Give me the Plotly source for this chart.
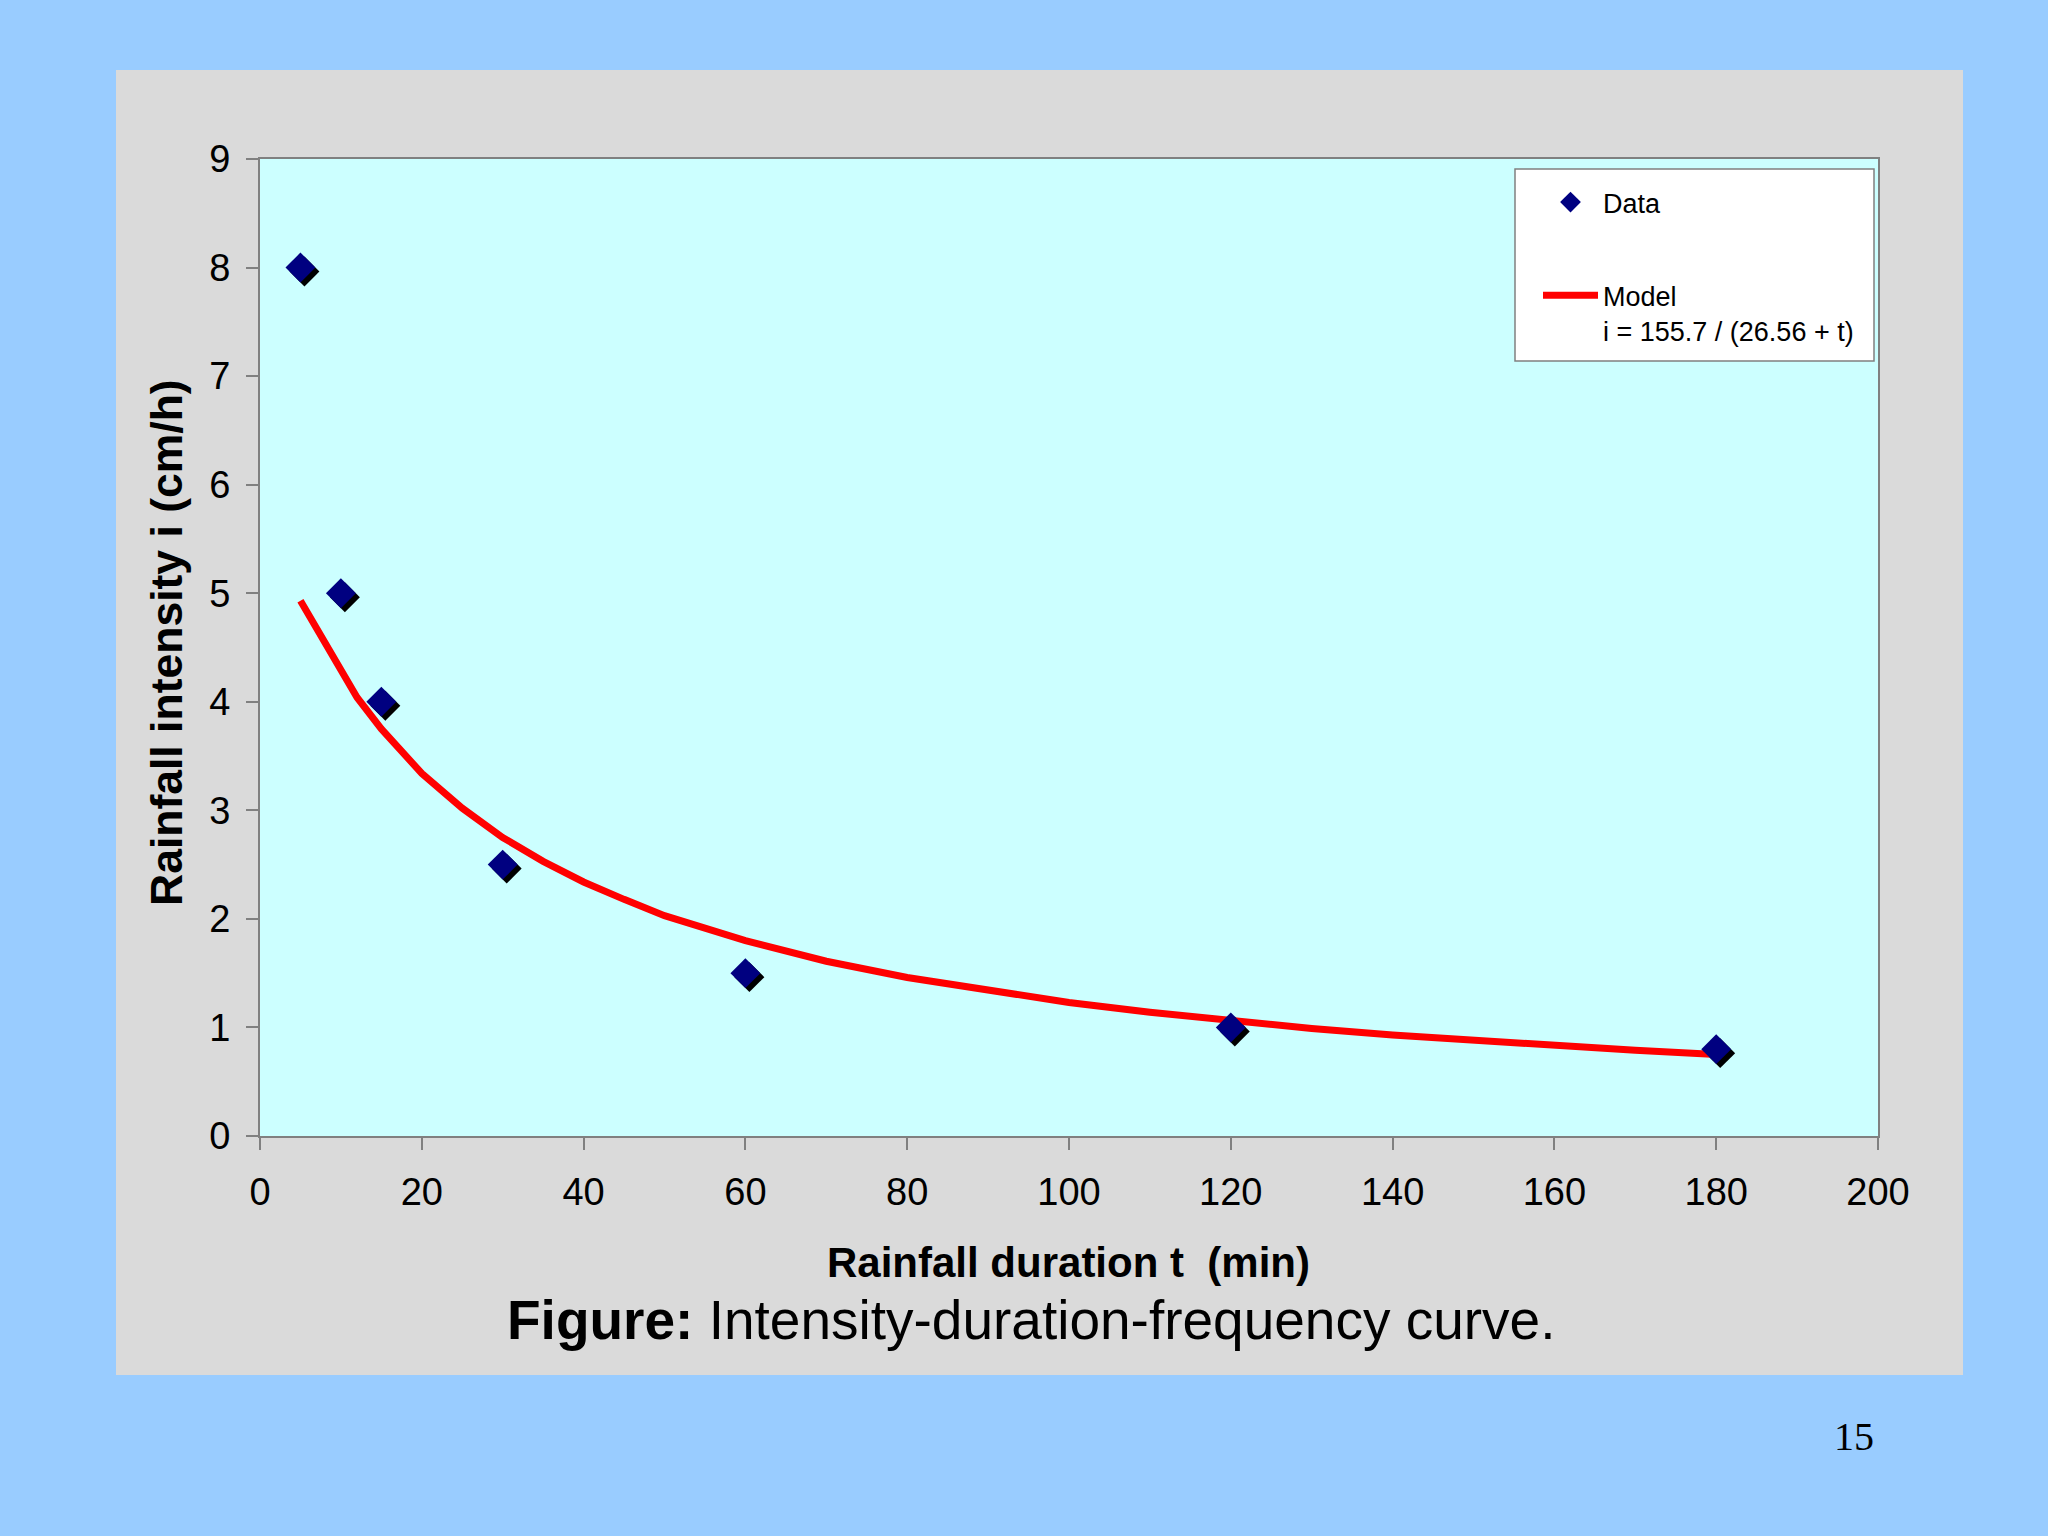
import plotly.graph_objects as go

# ---- data ----
data_t = [5, 10, 15, 30, 60, 120, 180]
data_i = [8.0, 5.0, 4.0, 2.5, 1.5, 1.0, 0.8]

model_t = [5, 12, 15, 20, 25, 30, 35, 40, 45, 50, 60, 70, 80, 90, 100, 110,
           120, 130, 140, 150, 160, 170, 180]
model_i = [4.93, 4.04, 3.75, 3.34, 3.02, 2.75, 2.53, 2.34, 2.18, 2.03, 1.80,
           1.61, 1.46, 1.34, 1.23, 1.14, 1.06, 0.99, 0.93, 0.88, 0.83, 0.79, 0.75]

x_ticks = [0, 20, 40, 60, 80, 100, 120, 140, 160, 180, 200]
y_ticks = [0, 1, 2, 3, 4, 5, 6, 7, 8, 9]

x_title = "<b>Rainfall duration t&nbsp; (min)</b>"
y_title = "<b>Rainfall intensity i (cm/h)</b>"
caption = "<b>Figure:</b> Intensity-duration-frequency curve."
page_no = "15"

# ---- layout geometry (pixels on a 2048x1536 page) ----
W, H = 2048, 1536
PX0, PX1 = 260, 1878
PY0, PY1 = 159, 1136
SH = 4  # shadow offset


def fx(p):
    return p / W


def fy(p):
    return 1 - p / H


FONT = "Liberation Sans, Arial, sans-serif"

fig = go.Figure()

# shadow of the diamonds (own, slightly shifted subplot)
fig.add_trace(go.Scatter(
    x=data_t, y=data_i, mode="markers", xaxis="x", yaxis="y",
    marker=dict(symbol="diamond", size=23, color="black"),
    showlegend=False, hoverinfo="skip"))

# model line
fig.add_trace(go.Scatter(
    x=model_t, y=model_i, mode="lines", xaxis="x2", yaxis="y2",
    line=dict(color="#ff0000", width=7),
    name="Model<br>i = 155.7 / (26.56 + t)", legendrank=2, legendgroup="m"))

# data diamonds
fig.add_trace(go.Scatter(
    x=data_t, y=data_i, mode="markers", xaxis="x2", yaxis="y2",
    marker=dict(symbol="diamond", size=23, color="#000080"),
    name="Data", legendrank=1, legendgroup="d"))

fig.update_layout(
    width=W, height=H,
    autosize=False,
    margin=dict(l=0, r=0, t=0, b=0, pad=0, autoexpand=False),
    paper_bgcolor="#99ccff",
    plot_bgcolor="rgba(0,0,0,0)",
    font=dict(family=FONT, color="black"),
    xaxis=dict(domain=[fx(PX0 + SH), fx(PX1 + SH)], anchor="y",
               range=[0, 200], visible=False, automargin=False),
    yaxis=dict(domain=[fy(PY1 + SH), fy(PY0 + SH)], anchor="x",
               range=[0, 9], visible=False, automargin=False),
    xaxis2=dict(domain=[fx(PX0), fx(PX1)], anchor="y2", range=[0, 200],
                tickvals=x_ticks, ticks="outside", ticklen=12, tickwidth=1.5,
                tickcolor="#808080", showline=True, linecolor="#808080",
                linewidth=2, mirror=True, showgrid=False, zeroline=False,
                automargin=False,
                tickfont=dict(size=38, family=FONT), ticklabelstandoff=9),
    yaxis2=dict(domain=[fy(PY1), fy(PY0)], anchor="x2", range=[0, 9],
                tickvals=y_ticks, ticks="outside", ticklen=12, tickwidth=1.5,
                tickcolor="#808080", showline=True, linecolor="#808080",
                linewidth=2, mirror=True, showgrid=False, zeroline=False,
                automargin=False,
                tickfont=dict(size=38, family=FONT), ticklabelstandoff=8),
    legend=dict(x=fx(1538), y=fy(178), xanchor="left", yanchor="top",
                bgcolor="rgba(0,0,0,0)", borderwidth=0,
                font=dict(size=27, family=FONT), valign="top",
                itemwidth=55, tracegroupgap=55, traceorder="grouped"),
    showlegend=True,
    shapes=[
        # grey panel
        dict(type="rect", xref="paper", yref="paper", layer="below",
             x0=fx(116), x1=fx(1963), y0=fy(1375), y1=fy(70),
             fillcolor="#dadada", line=dict(width=0)),
        # cyan plot area
        dict(type="rect", xref="paper", yref="paper", layer="below",
             x0=fx(PX0), x1=fx(PX1), y0=fy(PY1), y1=fy(PY0),
             fillcolor="#ccffff", line=dict(width=0)),
        # legend box
        dict(type="rect", xref="paper", yref="paper", layer="below",
             x0=fx(1515), x1=fx(1874), y0=fy(361), y1=fy(169),
             fillcolor="white", line=dict(color="#808080", width=1.5)),
    ],
    annotations=[
        dict(text=x_title, xref="paper", yref="paper", x=fx(1068), y=fy(1262),
             xanchor="center", yanchor="middle", showarrow=False,
             font=dict(size=42, family=FONT)),
        dict(text=y_title, xref="paper", yref="paper", x=fx(166), y=fy(643),
             xanchor="center", yanchor="middle", showarrow=False, textangle=-90,
             font=dict(size=44.5, family=FONT)),
        dict(text=caption, xref="paper", yref="paper", x=fx(1031), y=fy(1320),
             xanchor="center", yanchor="middle", showarrow=False,
             font=dict(size=55, family=FONT)),
        dict(text=page_no, xref="paper", yref="paper", x=fx(1854), y=fy(1436),
             xanchor="center", yanchor="middle", showarrow=False,
             font=dict(size=40, family="Liberation Serif, Times New Roman, serif")),
    ],
)

page_css = (
    "document.documentElement.style.margin='0';"
    "document.documentElement.style.overflow='hidden';"
    "document.body.style.margin='0';"
    "document.body.style.overflow='hidden';"
    "document.body.style.background='#99ccff';"
)

fig.write_html("out.html", post_script=page_css,
               config={"displayModeBar": False, "responsive": False})
